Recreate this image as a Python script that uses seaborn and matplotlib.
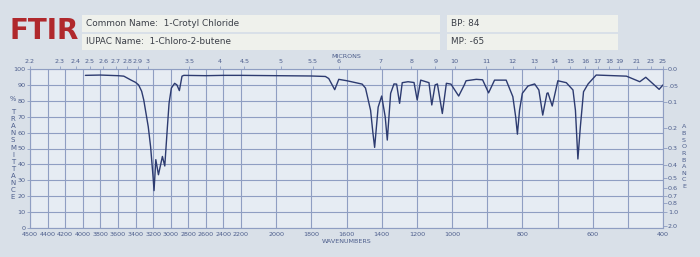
import numpy as np
import pandas as pd
import matplotlib
matplotlib.use("Agg")
import matplotlib.pyplot as plt
import seaborn as sns
from matplotlib.patches import Rectangle
from matplotlib.ticker import FixedLocator, NullFormatter

# ---------------- data ----------------
wavenumber = [3970, 3800, 3600, 3533, 3450, 3400, 3365, 3330, 3306, 3255, 3228, 3200,
              3189, 3169, 3139, 3094, 3067, 3037, 3018, 2992, 2955, 2929, 2901, 2871,
              2850, 2600, 2400, 2200, 2000, 1800, 1720, 1701, 1667, 1644, 1597, 1511,
              1492, 1463, 1450, 1440, 1420, 1400, 1380, 1368, 1349, 1330, 1315, 1298,
              1283, 1250, 1216, 1198, 1178, 1131, 1115, 1096, 1083, 1055, 1032, 1006,
              981, 965, 960, 931, 913, 896, 879, 846, 827, 819, 814, 808, 800, 784,
              765, 753, 742, 730, 727, 715, 699, 675, 656, 649, 642, 635, 626, 613,
              590, 504, 466, 449, 411, 400]
transmittance = [96, 96.2, 95.8, 95.5, 93, 91.6, 90, 86, 80.5, 63.7, 51, 32,
                 23.5, 43, 33.5, 45, 39, 63.7, 78.6, 88, 91, 90, 86.4, 95.5,
                 96, 95.8, 96, 96, 95.8, 95.6, 95.3, 94, 87, 93.5, 92.6, 90.5,
                 88, 74, 60, 50.7, 76, 83, 70, 55.3, 84.7, 90.6, 90.5, 78.4,
                 91.4, 92, 91.5, 80.5, 93, 91.4, 77.4, 90, 90.6, 72, 91, 90.5,
                 83, 90, 92.6, 93.5, 93.2, 85, 93, 93, 82.6, 70, 59, 74, 84.7, 89.3,
                 90.6, 86.8, 71, 84.7, 85, 76.7, 92.6, 91.4, 86.8, 74, 43.4, 63.7, 85.7, 90.6,
                 96.2, 95.5, 92, 94.8, 87.2, 90]

wn_ticks = [4500, 4400, 4200, 4000, 3800, 3600, 3400, 3200, 3000, 2800, 2600, 2400,
            2200, 2000, 1800, 1600, 1400, 1200, 1000, 800, 600, 400]
wn_minor = [900, 700, 500]
micron_ticks = [2.2, 2.3, 2.4, 2.5, 2.6, 2.7, 2.8, 2.9, 3, 3.5, 4, 4.5, 5, 5.5, 6, 7,
                8, 9, 10, 11, 12, 13, 14, 15, 16, 17, 18, 19, 21, 23, 25]
micron_labels = ["2.2", "2.3", "2.4", "2.5", "2.6", "2.7", "2.8", "2.9", "3", "3.5", "4",
                 "4.5", "5", "5.5", "6", "7", "8", "9", "10", "11", "12", "13", "14",
                 "15", "16", "17", "18", "19", "21", "23", "25"]
pct_ticks = list(range(0, 101, 10))
abs_ticks = [0.0, 0.05, 0.1, 0.2, 0.3, 0.4, 0.5, 0.6, 0.7, 0.8, 1.0, 2.0]
abs_labels = ["0.0", ".05", "0.1", "0.2", "0.3", "0.4", "0.5", "0.6", "0.7", "0.8",
              "1.0", "2.0"]

# chart's piecewise-linear wavenumber scale (grid-cell units)
scale_wn = [400, 1000, 2200, 4400, 4500]
scale_cells = [-36, -24, -12, -1, 0]

XP = np.array(scale_wn, float)
FP = np.array(scale_cells, float)


def _pw(v, xp, fp):
    v = np.asarray(v, float)
    out = np.interp(v, xp, fp)
    lo_s = (fp[1] - fp[0]) / (xp[1] - xp[0])
    hi_s = (fp[-1] - fp[-2]) / (xp[-1] - xp[-2])
    out = np.where(v < xp[0], fp[0] + (v - xp[0]) * lo_s, out)
    out = np.where(v > xp[-1], fp[-1] + (v - xp[-1]) * hi_s, out)
    return out


def fwd(v):
    return _pw(v, XP, FP)


def inv(v):
    return _pw(v, FP, XP)


# ---------------- style ----------------
FIG_BG = "#d9e0e8"
AX_BG = "#e6ecf3"
GRID = "#8f9ec2"
TXT = "#4d5e8c"
LINE = "#2d3b70"
BOX = "#eff1ec"
HDR = "#3b3f48"

sns.set_style("white")
plt.rcParams["font.family"] = ["DejaVu Sans"]

W, H = 700, 257
fig = plt.figure(figsize=(W / 100, H / 100), dpi=100, facecolor=FIG_BG)

L, R, T, B = 30, 663, 69, 228
ax = fig.add_axes([L / W, 1 - B / H, (R - L) / W, (B - T) / H])
ax.set_facecolor(AX_BG)

df = pd.DataFrame({"wavenumber": wavenumber, "transmittance": transmittance})
sns.lineplot(data=df, x="wavenumber", y="transmittance", ax=ax, sort=False,
             estimator=None, color=LINE, lw=1.0, zorder=3)

ax.set_xscale("function", functions=(fwd, inv))
ax.set_xlim(4500, 400)
ax.set_ylim(0, 100)
ax.set_xticks(wn_ticks)
ax.set_xticklabels([str(t) for t in wn_ticks])
ax.xaxis.set_minor_locator(FixedLocator(wn_minor))
ax.xaxis.set_minor_formatter(NullFormatter())
ax.set_yticks(pct_ticks)
ax.set_yticklabels([str(t) for t in pct_ticks])
ax.grid(True, which="both", axis="both", color=GRID, lw=0.8)
ax.tick_params(axis="x", which="both", length=0, pad=3, labelsize=4.6, labelcolor=TXT)
ax.tick_params(axis="y", length=2, width=0.6, color=GRID, pad=1, labelsize=4.6,
               labelcolor=TXT)
for s in ax.spines.values():
    s.set_color(GRID)
    s.set_linewidth(0.8)
ax.set_xlabel("WAVENUMBERS", fontsize=4.6, color=TXT, labelpad=1)
ax.set_ylabel("")

# top micron axis
ax_t = ax.twiny()
ax_t.set_xscale("function", functions=(fwd, inv))
ax_t.set_xlim(4500, 400)
ax_t.set_xticks([10000.0 / m for m in micron_ticks])
ax_t.set_xticklabels(micron_labels)
ax_t.tick_params(axis="x", length=2.5, width=0.6, color=GRID, pad=1, labelsize=4.6,
                 labelcolor=TXT)
ax_t.set_xlabel("MICRONS", fontsize=4.6, color=TXT, labelpad=1)
for s in ax_t.spines.values():
    s.set_visible(False)

# right absorbance axis
ax_r = ax.twinx()
ax_r.set_ylim(0, 100)
ax_r.set_yticks([100 * 10 ** (-a) for a in abs_ticks])
ax_r.set_yticklabels(abs_labels)
ax_r.tick_params(axis="y", length=3, width=0.6, color=GRID, pad=0.5, labelsize=4.6,
                 labelcolor=TXT)
for s in ax_r.spines.values():
    s.set_visible(False)

# stacked axis titles
fig.text(13 / W, 1 - 99 / H, "%", fontsize=4.8, color=TXT, ha="center", va="center")
for i, ch in enumerate("TRANSMITTANCE"):
    fig.text(13 / W, 1 - (112 + i * 7.1) / H, ch, fontsize=5, color=TXT,
             ha="center", va="center")
for i, ch in enumerate("ABSORBANCE"):
    fig.text(684 / W, 1 - (127 + i * 6.6) / H, ch, fontsize=4.6, color=TXT,
             ha="center", va="center")

# header
fig.text(10 / W, 1 - 31 / H, "FTIR", fontsize=20, fontweight="bold", color="#b0282c",
         ha="left", va="center")
for (x0, y0, x1, y1) in [(82, 15, 440, 31.5), (82, 33.5, 440, 50),
                         (447, 15, 618, 31.5), (447, 33.5, 618, 50)]:
    fig.patches.append(Rectangle((x0 / W, 1 - y1 / H), (x1 - x0) / W, (y1 - y0) / H,
                                 transform=fig.transFigure, facecolor=BOX,
                                 edgecolor="none", zorder=0))
hdr_kw = dict(fontsize=6.4, color=HDR, ha="left", va="center")
fig.text(86 / W, 1 - 23.5 / H, "Common Name:  1-Crotyl Chloride", **hdr_kw)
fig.text(86 / W, 1 - 42 / H, "IUPAC Name:  1-Chloro-2-butene", **hdr_kw)
fig.text(451 / W, 1 - 23.5 / H, "BP: 84", **hdr_kw)
fig.text(451 / W, 1 - 42 / H, "MP: -65", **hdr_kw)

fig.savefig("out.png", dpi=100, facecolor=FIG_BG)
